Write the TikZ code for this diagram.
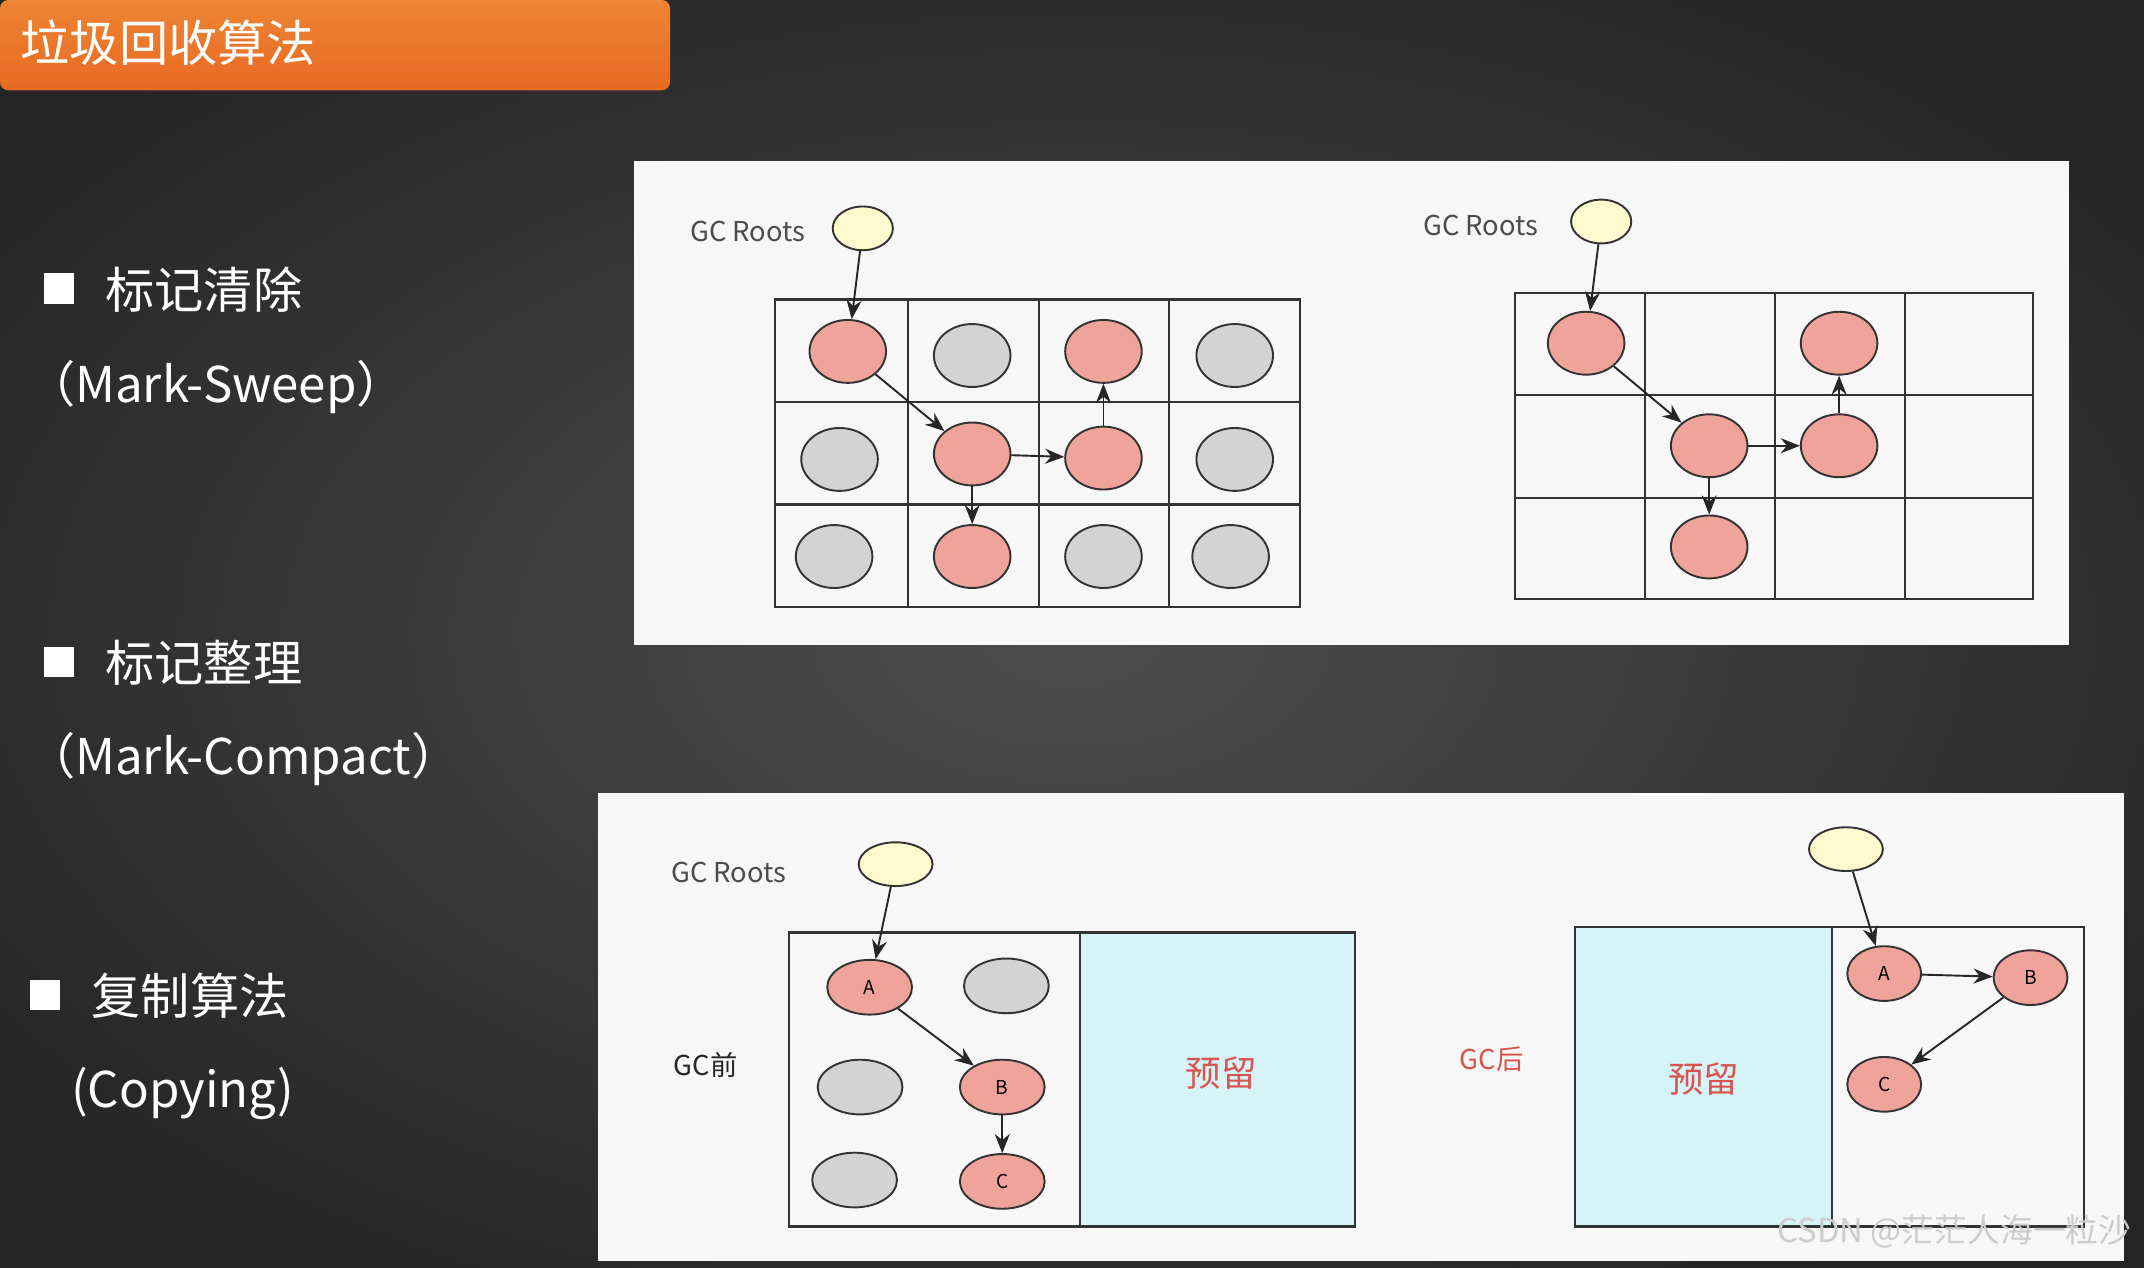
\documentclass[tikz,border=0pt]{standalone}
\usepackage{fontspec}
\setmainfont{Noto Sans CJK SC}
\newfontfamily\cjk{Noto Sans CJK SC}
\usetikzlibrary{arrows.meta,shapes.geometric}
\definecolor{pinkf}{HTML}{EFA39B}
\definecolor{grayf}{HTML}{D3D3D3}
\definecolor{yelf}{HTML}{FFFACD}
\definecolor{cyanf}{HTML}{D6F4F8}
\definecolor{redt}{HTML}{D9534F}
\definecolor{bgd}{HTML}{2E2E2E}
\definecolor{orA}{HTML}{EE8434}
\definecolor{orB}{HTML}{E86A22}
\tikzset{
 obj/.style={ellipse, draw=black!80, line width=0.7pt, minimum width=28pt, minimum height=23pt, inner sep=0pt},
 pk/.style={obj, fill=pinkf},
 gy/.style={obj, fill=grayf},
 smallo/.style={minimum width=31pt, minimum height=20pt},
 rt/.style={ellipse, draw=black!80, line width=0.7pt, fill=yelf, minimum width=22pt, minimum height=16pt, inner sep=0pt},
 ar/.style={-{Stealth[length=7pt,width=5.5pt]}, line width=0.7pt, black!85},
 gridline/.style={draw=black!80, line width=0.8pt},
 lbl/.style={font=\fontsize{10}{12}\selectfont, text=black!70},
 lefttxt/.style={text=white, font=\fontsize{18}{20}\selectfont, anchor=west},
}
\begin{document}
\begin{tikzpicture}[x=0.5pt,y=-0.5pt]
\useasboundingbox (0,0) rectangle (1568,927);
\shade[inner color=bgd!85!white, outer color=bgd!80!black] (-200,-100) rectangle (1768,1027);
\shade[top color=orA, bottom color=orB, rounded corners=3pt] (0,0) rectangle (490,66);
\node[text=white, font=\fontsize{18}{20}\selectfont, anchor=west] (title) at (8,31) {垃圾回收算法};
% left list
\fill[white] (32,200) rectangle (54,222);
\node[lefttxt] (t1) at (70,212) {标记清除};
\node[lefttxt] (t1b) at (12,283) {（Mark-Sweep）};
\fill[white] (32,473) rectangle (54,495);
\node[lefttxt] (t2) at (70,485) {标记整理};
\node[lefttxt] (t2b) at (12,555) {（Mark-Compact）};
\fill[white] (22,717) rectangle (44,739);
\node[lefttxt] (t3) at (60,728) {复制算法};
\node[lefttxt] (t3b) at (45,800) {(Copying)};
% panel 1
\fill[white!97!black] (464,118) rectangle (1513,472);
\draw[gridline] (567,219) rectangle (951,444);
\foreach \x in {664,760,855} \draw[gridline] (\x,219)--(\x,444);
\foreach \y in {294,369} \draw[gridline] (567,\y)--(951,\y);
\node[lbl] (g1) at (547,169) {GC Roots};
\node[rt] (r1) at (631,167) {};
\node[pk] (a11) at (620,257) {};
\node[gy] (a12) at (711,260) {};
\node[pk] (a13) at (807,257) {};
\node[gy] (a14) at (903,260) {};
\node[gy] (a21) at (614,336) {};
\node[pk] (a22) at (711,332) {};
\node[pk] (a23) at (807,335) {};
\node[gy] (a24) at (903,336) {};
\node[gy] (a31) at (610,407) {};
\node[pk] (a32) at (711,407) {};
\node[gy] (a33) at (807,407) {};
\node[gy] (a34) at (900,407) {};
\draw[ar] (r1)--(a11);
\draw[ar] (a11)--(a22);
\draw[ar] (a22)--(a23);
\draw[ar] (a23)--(a13);
\draw[ar] (a22)--(a32);
% right grid
\foreach \x in {1203,1298,1393} \draw[gridline] (\x,214)--(\x,438);
\foreach \y in {289,364} \draw[gridline] (1108,\y)--(1487,\y);
\draw[gridline] (1108,214) rectangle (1487,438);
\node[lbl] (g2) at (1083,165) {GC Roots};
\node[rt] (r2) at (1171,162) {};
\node[pk] (b1) at (1160,251) {};
\node[pk] (b2) at (1250,326) {};
\node[pk] (b3) at (1345,326) {};
\node[pk] (b4) at (1345,251) {};
\node[pk] (b5) at (1250,400) {};
\draw[ar] (r2)--(b1);
\draw[ar] (b1)--(b2);
\draw[ar] (b2)--(b3);
\draw[ar] (b3)--(b4);
\draw[ar] (b2)--(b5);
% panel 2
\fill[white!97!black] (437,580) rectangle (1553,922);
\fill[cyanf] (790,682) rectangle (991,897);
\draw[gridline] (577,682) rectangle (991,897);
\draw[gridline] (790,682)--(790,897);
\node[lbl] (g3) at (533,638) {GC Roots};
\node[rt, minimum width=27pt] (r3) at (655,632) {};
\node[pk,smallo,font=\scriptsize] (cA) at (636,722) {A};
\node[gy,smallo] (c2) at (736,721) {};
\node[gy,smallo] (c3) at (629,795) {};
\node[pk,smallo,font=\scriptsize] (cB) at (733,795) {B};
\node[gy,smallo] (c5) at (625,863) {};
\node[pk,smallo,font=\scriptsize] (cC) at (733,864) {C};
\draw[ar] (r3)--(cA);
\draw[ar] (cA)--(cB);
\draw[ar] (cB)--(cC);
\node[lbl, text=black!85] (gq) at (516,779) {GC前};
\node[text=redt, font=\fontsize{13}{15}\selectfont] (y1) at (893,785) {预留};
\fill[cyanf] (1152,678) rectangle (1340,897);
\draw[gridline] (1152,678) rectangle (1524,897);
\draw[gridline] (1340,678)--(1340,897);
\node[rt, minimum width=27pt] (r4) at (1350,621) {};
\node[pk,minimum width=27pt,minimum height=20pt,font=\scriptsize] (dA) at (1378,712) {A};
\node[pk,minimum width=27pt,minimum height=20pt,font=\scriptsize] (dB) at (1485,715) {B};
\node[pk,minimum width=27pt,minimum height=20pt,font=\scriptsize] (dC) at (1378,793) {C};
\draw[ar] (r4)--(dA);
\draw[ar] (dA)--(dB);
\draw[ar] (dB)--(dC);
\node[lbl, text=redt] (gh) at (1091,775) {GC后};
\node[text=redt, font=\fontsize{13}{15}\selectfont] (y2) at (1246,789) {预留};
\node[text=white!80!black, font=\fontsize{12}{14}\selectfont, anchor=east] (wm) at (1566,901) {CSDN @茫茫人海一粒沙};
\end{tikzpicture}
\end{document}
